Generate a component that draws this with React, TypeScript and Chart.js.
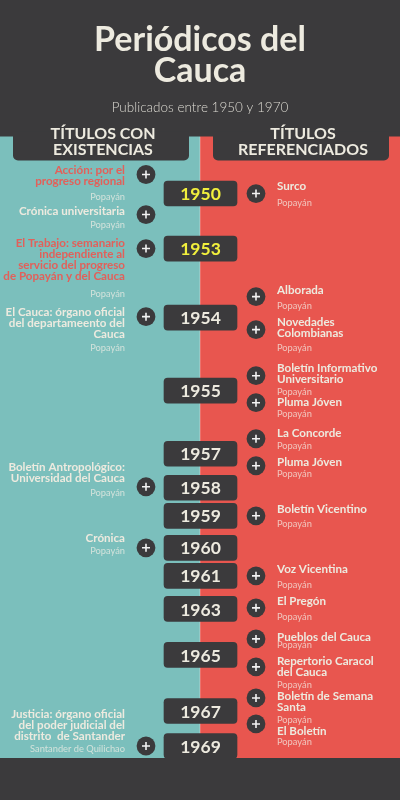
import { useEffect, useRef } from 'react';
import { Chart, registerables } from 'chart.js';

Chart.register(...registerables);

// ---------- DATA ----------
const years = [1950, 1953, 1954, 1955, 1957, 1958, 1959, 1960, 1961, 1963, 1965, 1967, 1969];
// position of each year along the timeline (0 = top of the timeline, 596 = bottom)
const yearPos = [32, 87, 156, 229, 292, 326, 354, 386, 414, 447, 493, 549, 584];
const highlightedYears = [1950, 1953];

const columnHeaders = [
  ['TÍTULOS CON', 'EXISTENCIAS'],
  ['TÍTULOS', 'REFERENCIADOS'],
];

const leftTitles = [
  ['Acción: por el', 'progreso regional'],
  ['Crónica universitaria'],
  ['El Trabajo: semanario', 'independiente al', 'servicio del progreso', 'de Popayán y del Cauca'],
  ['El Cauca: órgano oficial', 'del departameento del', 'Cauca'],
  ['Boletín Antropológico:', 'Universidad del Cauca'],
  ['Crónica'],
  ['Justicia: órgano oficial', 'del poder judicial del', 'distrito  de Santander'],
];
const leftPlaces = ['Popayán', 'Popayán', 'Popayán', 'Popayán', 'Popayán', 'Popayán', 'Santander de Quilichao'];
const leftHighlighted = [true, false, true, false, false, false, false];
const leftIconPos = [13, 53, 87, 155, 325, 386, 584];
const leftTitlePos = [9, 49.5, 82, 151, 305, 376, 552];
const leftPlacePos = [35.5, 63, 132, 186, 331, 389, 587];

const rightTitles = [
  ['Surco'],
  ['Alborada'],
  ['Novedades', 'Colombianas'],
  ['Boletín Informativo', 'Universitario'],
  ['Pluma Jóven'],
  ['La Concorde'],
  ['Pluma Jóven'],
  ['Boletín Vicentino'],
  ['Voz Vicentina'],
  ['El Pregón'],
  ['Pueblos del Cauca'],
  ['Repertorio Caracol', 'del Cauca'],
  ['Boletín de Semana', 'Santa'],
  ['El Boletín'],
];
const rightPlaces = rightTitles.map(() => 'Popayán');
const rightIconPos = [32, 135, 168, 214, 241, 277, 304, 354, 414, 446, 477, 505, 536, 562];
const rightTitlePos = [25, 129, 161, 207, 241, 272, 300, 347, 407, 439, 475, 499, 534, 569];
const rightPlacePos = [41, 144, 186, 230, 252, 284, 312, 362, 423, 455, 483, 523, 558, 580];

// ---------- STYLE ----------
const FONT = 'Lato, "Noto Sans", sans-serif';
const DARK = '#3b3a3c';
const TEAL = '#7bbfbc';
const RED = '#e8564f';
const CREAM = '#edeadf';
const YELLOW = '#f1ef3d';
const RED_TEXT = '#e2605a';
const PLACE = 'rgba(244,240,232,0.72)';
const LINE = 11;

const X_ICON_L = -54;
const X_ICON_R = 56;
const X_TEXT_L = -75;
const X_TEXT_R = 77;
const BAR_X: [number, number] = [-36, 37];

const backdrop = {
  id: 'backdrop',
  beforeDraw(chart: any) {
    const { ctx, width, height, chartArea } = chart;
    const split = chart.scales.x.getPixelForValue(0);
    const headTop = chartArea.top - 25;
    ctx.save();
    ctx.fillStyle = TEAL;
    ctx.fillRect(0, 0, split, height);
    ctx.fillStyle = RED;
    ctx.fillRect(split, 0, width - split, height);
    ctx.fillStyle = 'rgba(255,255,255,0.35)';
    ctx.fillRect(split - 0.5, headTop, 1, chartArea.bottom - headTop);
    ctx.fillStyle = DARK;
    ctx.fillRect(0, 0, width, headTop);
    const top = chart.scales.xTop;
    [0, 1].forEach((i) => {
      const cx = top.getPixelForTick(i) + 1;
      ctx.beginPath();
      ctx.roundRect(cx - 88, headTop - 5, 176, chartArea.top - 1 - (headTop - 5), [0, 0, 5, 5]);
      ctx.fill();
    });
    ctx.fillRect(0, chartArea.bottom, width, height - chartArea.bottom);
    ctx.restore();
  },
};

const timelineLabels = {
  id: 'timelineLabels',
  afterDatasetsDraw(chart: any) {
    const { ctx } = chart;
    const xs = chart.scales.x;
    const ys = chart.scales.y;
    ctx.save();
    ctx.textBaseline = 'middle';
    ctx.textAlign = 'center';
    ctx.font = `bold 17.5px ${FONT}`;
    const meta = chart.getDatasetMeta(2);
    meta.data.forEach((el: any, i: number) => {
      ctx.fillStyle = highlightedYears.includes(years[i]) ? YELLOW : CREAM;
      ctx.fillText(String(years[i]), (el.x + el.base) / 2, el.y + 1);
    });
    const side = (
      titles: string[][],
      tPos: number[],
      places: string[],
      pPos: number[],
      hl: boolean[] | null,
      xv: number,
      align: CanvasTextAlign,
    ) => {
      const x = xs.getPixelForValue(xv);
      ctx.textAlign = align;
      titles.forEach((lines, i) => {
        const y0 = ys.getPixelForValue(tPos[i]);
        ctx.font = `bold 11.6px ${FONT}`;
        ctx.fillStyle = hl && hl[i] ? RED_TEXT : CREAM;
        lines.forEach((ln, j) => ctx.fillText(ln, x, y0 + j * LINE));
        ctx.font = `9.3px ${FONT}`;
        ctx.fillStyle = PLACE;
        ctx.fillText(places[i], x, ys.getPixelForValue(pPos[i]));
      });
    };
    side(leftTitles, leftTitlePos, leftPlaces, leftPlacePos, leftHighlighted, X_TEXT_L, 'right');
    side(rightTitles, rightTitlePos, rightPlaces, rightPlacePos, null, X_TEXT_R, 'left');
    ctx.restore();
  },
};

export default function App() {
  const ref = useRef<HTMLCanvasElement>(null);
  useEffect(() => {
    document.body.style.margin = '0';
    if (!ref.current) return;
    const icons = [
      ...leftIconPos.map((p) => ({ x: X_ICON_L, y: p })),
      ...rightIconPos.map((p) => ({ x: X_ICON_R, y: p })),
    ];
    const chart = new Chart(ref.current, {
      type: 'scatter',
      data: {
        datasets: [
          {
            type: 'scatter',
            data: icons,
            pointStyle: 'cross',
            pointRadius: 4,
            pointBorderColor: '#f3f3f3',
            pointBorderWidth: 1.6,
            pointBackgroundColor: 'transparent',
            xAxisID: 'x',
            yAxisID: 'y',
          } as any,
          {
            type: 'scatter',
            data: icons,
            pointStyle: 'circle',
            pointRadius: 9.4,
            pointBorderWidth: 0,
            pointBackgroundColor: DARK,
            xAxisID: 'x',
            yAxisID: 'y',
          } as any,
          {
            type: 'bar',
            indexAxis: 'y',
            data: years.map((_, i) => ({ x: BAR_X, y: yearPos[i] })),
            backgroundColor: DARK,
            barThickness: 25,
            borderRadius: 4,
            borderSkipped: false,
            xAxisID: 'x',
            yAxisID: 'y',
          } as any,
        ],
      },
      options: {
        animation: false,
        responsive: false,
        events: [],
        layout: { autoPadding: false, padding: { top: 0, left: 0, right: 0, bottom: 42 } },
        plugins: {
          legend: { display: false },
          tooltip: { enabled: false },
          title: {
            display: true,
            text: ['Periódicos del', 'Cauca'],
            color: CREAM,
            font: { family: FONT, size: 34, weight: 'bold', lineHeight: '31px' },
            padding: { top: 25, bottom: 0 },
          },
          subtitle: {
            display: true,
            text: 'Publicados entre 1950 y 1970',
            color: '#dcdad2',
            font: { family: FONT, size: 13.5, weight: 300, lineHeight: '14px' },
            padding: { top: 14, bottom: 0 },
          },
        },
        scales: {
          x: { type: 'linear', min: -200, max: 200, offset: false, display: false },
          y: { type: 'linear', min: 0, max: 596, reverse: true, offset: false, display: false, grid: { offset: false } },
          xTop: {
            type: 'category',
            position: 'top',
            labels: columnHeaders as any,
            offset: true,
            grid: { display: false, drawTicks: false },
            border: { display: false },
            ticks: {
              color: CREAM,
              font: { family: FONT, size: 16, weight: 'bold', lineHeight: '16.5px' },
              padding: 3,
              labelOffset: 3,
              maxRotation: 0,
              autoSkip: false,
            },
            afterFit: (scale: any) => {
              scale.height = 46.5;
            },
          },
        } as any,
      },
      plugins: [backdrop, timelineLabels],
    });
    return () => chart.destroy();
  }, []);
  return (
    <div style={{ width: 400, height: 800 }}>
      <canvas ref={ref} width={400} height={800} style={{ display: 'block' }} />
    </div>
  );
}
